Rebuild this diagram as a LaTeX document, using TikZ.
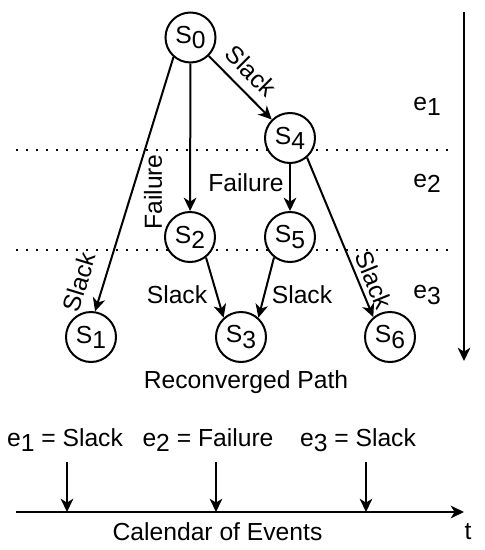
\documentclass[tikz,border=0pt]{standalone}
\usepackage{fontspec}
\setmainfont{Liberation Sans}
\usetikzlibrary{arrows.meta}
\newcommand{\lo}[1]{\raisebox{-0.4ex}{#1}}
\tikzset{every picture/.style={line width=1.5pt}}

\begin{document}
\begin{tikzpicture}[x=0.75pt,y=0.75pt,yscale=-1,xscale=1,
  every node/.style={font=\fontsize{18.5}{22}\selectfont},
  state/.style={draw,circle,minimum size=37.5pt,inner sep=0pt,fill=white},
  lbl/.style={inner sep=0.75pt},
  arr/.style={-{Stealth[length=10pt,width=9.5pt,inset=3pt]}},
  sep/.style={line width=1.8pt,dash pattern=on 1.8pt off 5.7pt}]
\useasboundingbox (0,0) rectangle (485,550);

%Straight Lines (event borders)
\draw [sep] (16,150) -- (455,150) ;
\draw [sep] (16,250) -- (455,250) ;
%Straight Lines (time of the tree)
\coordinate (ttop) at (464,12);
\coordinate (tbot) at (464,361);
\draw [arr] (ttop) -- (tbot) ;

%Shape: Circle
\node [state] (s0) at (190.5,37.5) {S\lo{0}};
\node [state] (s4) at (290,138) {S\lo{4}};
\node [state] (s2) at (190,237) {S\lo{2}};
\node [state] (s5) at (290,237) {S\lo{5}};
\node [state] (s1) at (91,337) {S\lo{1}};
\node [state] (s3) at (241,337) {S\lo{3}};
\node [state] (s6) at (390,337) {S\lo{6}};

%Straight Lines
\draw [arr] (s0) -- (s4) ;
\draw [arr] (s0) -- (s2) ;
\draw [arr] (s0.-131) -- (s1.81) ;
\draw [arr] (s4) -- (s5) ;
\draw [arr] (s4.-49) -- (s6.130) ;
\draw [arr] (s2.-52) -- (s3.132) ;
\draw [arr] (s5.-128) -- (s3.48) ;

% Text Node
\node [lbl,rotate=-45] (l04) at (251,71) {Slack};
% Text Node
\node [lbl,rotate=90] (l02) at (153,192) {Failure};
% Text Node
\node [lbl,rotate=73] (l01) at (79,282) {Slack};
% Text Node
\node [lbl] (l45) at (246,183) {Failure};
% Text Node
\node [lbl] (l23) at (177,295) {Slack};
% Text Node
\node [lbl] (l53) at (302,295) {Slack};
% Text Node
\node [lbl,rotate=-68] (l46) at (374,280) {Slack};
% Text Node
\node [lbl] (e1) at (427,106) {e\lo{1}};
\node [lbl] (e2) at (427,183) {e\lo{2}};
\node [lbl] (e3) at (427,295) {e\lo{3}};
% Text Node
\node [lbl] (rpath) at (246,382) {Reconverged Path};

%Straight Lines (calendar)
\coordinate (cal0) at (16,512);
\coordinate (cal1) at (464,512);
\draw [arr] (cal0) -- (cal1) ;
\coordinate (k1) at (67,512);
\coordinate (k2) at (216,512);
\coordinate (k3) at (366,512);
\node [lbl] (ev1) at (65,440) {e\lo{1} = Slack};
\node [lbl] (ev2) at (208,440) {e\lo{2} = Failure};
\node [lbl] (ev3) at (358,440) {e\lo{3} = Slack};
\draw [arr] (67,462) -- (k1) ;
\draw [arr] (216,462) -- (k2) ;
\draw [arr] (366,462) -- (k3) ;
% Text Node
\node [lbl] (cal) at (217.5,532) {Calendar of Events};
\node [lbl] (tlbl) at (468,532) {t};

\end{tikzpicture}
\end{document}
